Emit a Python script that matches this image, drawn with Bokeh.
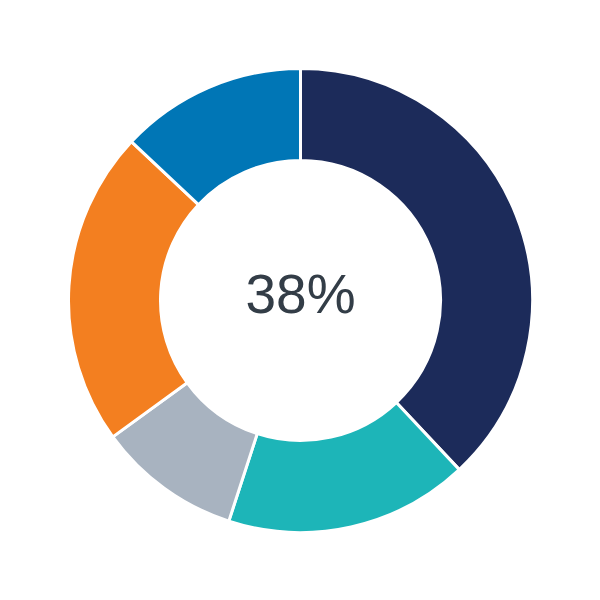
import numpy as np
from bokeh.plotting import figure
from bokeh.models import ColumnDataSource
from bokeh.core.properties import value
from bokeh.embed import file_html
from bokeh.resources import INLINE

categories = ["Navy", "Teal", "Gray", "Orange", "Blue"]
shares = [38, 17, 10, 22, 13]
colors = ["#1c2b5a", "#1db5b8", "#a8b3c0", "#f37f20", "#0076b6"]
center_label = "38%"

vals = np.array(shares, dtype=float)
frac = vals / vals.sum()
cum = np.concatenate([[0], np.cumsum(frac)])
start = np.pi / 2 - cum[:-1] * 2 * np.pi
end = np.pi / 2 - cum[1:] * 2 * np.pi

src = ColumnDataSource(dict(cat=categories, start=start, end=end, color=colors))

W = 584
p = figure(width=W, height=W, x_range=(-300, 284), y_range=(-284, 300),
           output_backend="svg", toolbar_location=None, min_border=0)
p.axis.visible = False
p.grid.visible = False
p.outline_line_color = None
p.background_fill_color = "white"

p.annular_wedge(x=0, y=0, inner_radius=140, outer_radius=232,
                start_angle="start", end_angle="end", direction="clock",
                fill_color="color", line_color="white", line_width=3, source=src)

p.text(x=[0], y=[7], text=[center_label], text_align="center", text_baseline="middle",
       text_font=value("Liberation Sans"), text_font_size="55px", text_color="#333d47")

open("out.html", "w").write(file_html(p, INLINE))
